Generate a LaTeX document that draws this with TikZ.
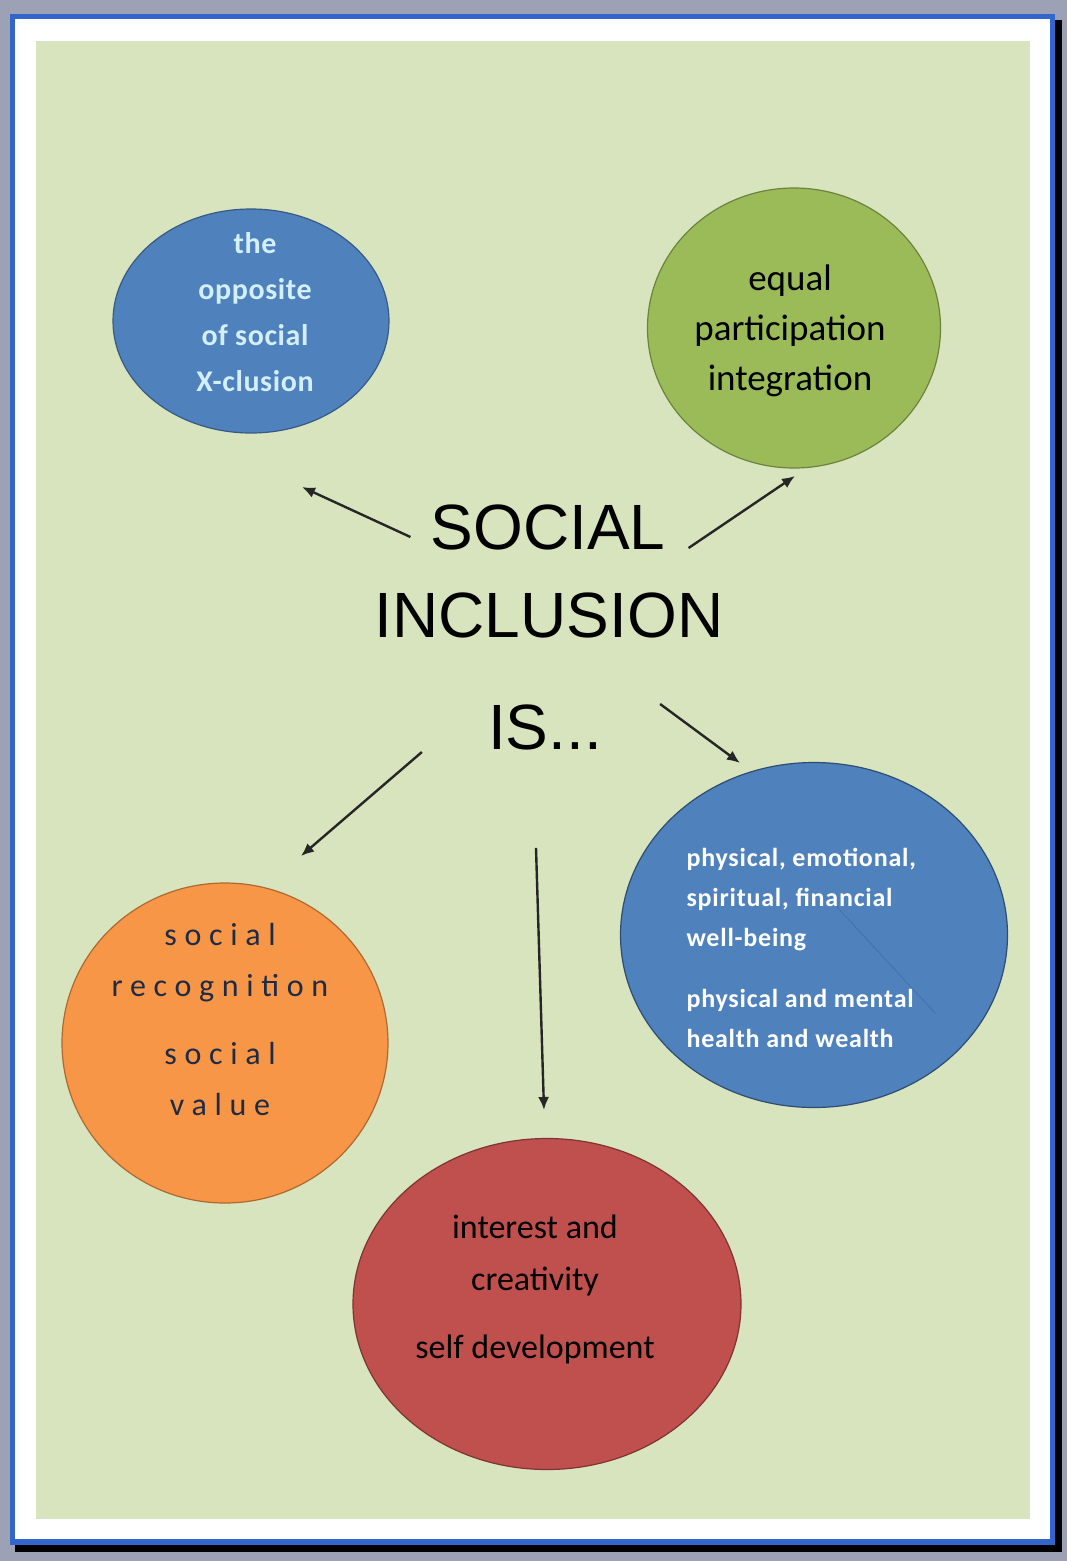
\documentclass[tikz,border=0pt]{standalone}
\usepackage{fontspec}
\setmainfont{Carlito}
\newfontfamily\arialFont{Liberation Sans}
\usepackage{xcolor}
\definecolor{pageGray}{HTML}{9DA1B5}
\definecolor{frameBlue}{HTML}{3366CC}
\definecolor{paperGreen}{HTML}{D7E4BD}
\definecolor{accBlue}{HTML}{4F81BD}
\definecolor{accGreen}{HTML}{9BBB59}
\definecolor{accOrange}{HTML}{F79646}
\definecolor{accRed}{HTML}{C0504D}
\definecolor{inkNavy}{HTML}{1F2B45}
\definecolor{paleCyan}{HTML}{D2EFFA}
\tikzset{
    blob/.style={ellipse, draw, line width=1.2pt, inner sep=0pt},
    pointer/.style={-{Latex[length=13pt,width=11pt]}, line width=2.4pt, draw=black!85},
    bigword/.style={font=\arialFont\fontsize{64}{70}\selectfont, inner sep=0pt},
}
\usetikzlibrary{arrows.meta,shapes.geometric}

\begin{document}
\begin{tikzpicture}[x=1pt,y=-1pt]

% page and frame
\fill[pageGray] (0,0) rectangle (1067,1561);
\fill[black] (15,20) rectangle (1062,1552);
\fill[frameBlue] (10,14) rectangle (1055,1545);
\fill[white] (15,19) rectangle (1050,1539);
\fill[paperGreen] (36,41) rectangle (1030,1519);

% the bubbles
\node[blob, fill=accBlue, draw=accBlue!70!black, minimum width=276pt, minimum height=224pt] (opp) at (251,321) {};
\node[blob, fill=accGreen, draw=accGreen!70!black, minimum width=293pt, minimum height=280pt] (eq) at (794,328) {};
\node[blob, fill=accBlue, draw=accBlue!60!black, minimum width=387pt, minimum height=345pt] (well) at (814,935) {};
\node[blob, fill=accOrange, draw=accOrange!70!black, minimum width=326pt, minimum height=320pt] (rec) at (225,1043) {};
\node[blob, fill=accRed, draw=accRed!65!black, minimum width=388pt, minimum height=331pt] (cre) at (547,1304) {};
\draw[accBlue!75!black, line width=0.8pt, opacity=0.5] (837,907) -- (935,1013);

% what is written in them
\node[font=\bfseries\fontsize{30}{46}\selectfont\addfontfeature{LetterSpace=2}, text=paleCyan, align=center] (oppText) at (opp) [xshift=4pt, yshift=9pt] {the\\opposite\\of social\\X-clusion};
\node[font=\fontsize{37}{50}\selectfont, align=center] (eqText) at (eq) [xshift=-4pt, yshift=-3pt] {equal\\participation\\integration};
\node[font=\bfseries\fontsize{26}{40}\selectfont\addfontfeature{LetterSpace=3}, text=white, align=left, anchor=west] (wellText) at (683,948) {physical, emotional,\\spiritual, financial\\well-being\\[21pt]physical and mental\\health and wealth};
\node[font=\fontsize{32}{51}\selectfont\addfontfeature{LetterSpace=24}, text=inkNavy, align=center] (recText) at (220,1019) {social\\recognition\\[17pt]social\\value};
\node[font=\fontsize{34}{52}\selectfont, align=center] (creText) at (535,1289) {interest and\\creativity\\[16pt]self development};

% the title
\node[bigword] (soc) at (548,527) {SOCIAL};
\node[bigword] (inc) at (549,615) {INCLUSION};
\node[bigword] (isn) at (545,727) {IS...};

% arrows out of the title
\coordinate (oppTip) at (302,487);
\coordinate (eqTip) at (795,476);
\coordinate (recTip) at (301,856);
\coordinate (wellTip) at (740,763);
\coordinate (creTip) at (544,1110);
\draw[pointer] ([shift={(-20,10)}]soc.west) -- (oppTip);
\draw[pointer] ([shift={(23,21)}]soc.east) -- (eqTip);
\draw[pointer] ([shift={(-66,25)}]isn.west) -- (recTip);
\draw[pointer] ([shift={(58,-23)}]isn.east) -- (wellTip);
\draw[pointer] ([shift={(-9,98)}]isn.south) -- (creTip);
\end{tikzpicture}
\end{document}
